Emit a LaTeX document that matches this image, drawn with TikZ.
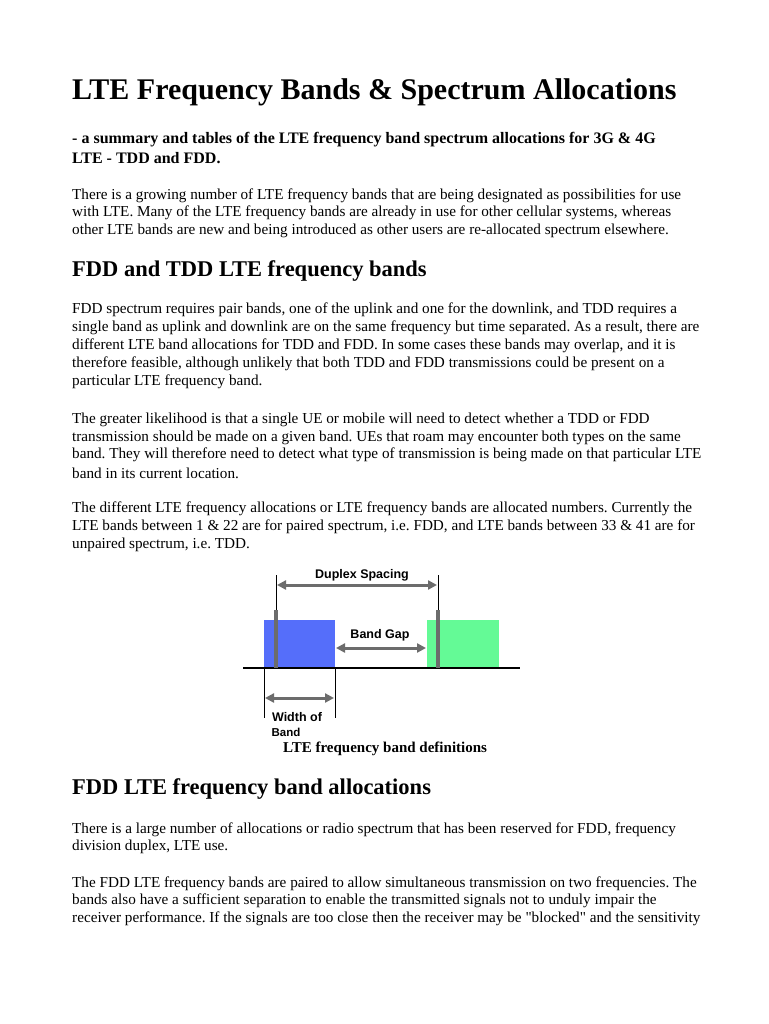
\documentclass[tikz,border=0pt]{standalone}
\usepackage{fontspec}
\setmainfont{Liberation Serif}
\newfontfamily\arial{Liberation Sans}
\usetikzlibrary{arrows.meta}
\begin{document}
\frenchspacing
\begin{tikzpicture}[x=1pt,y=-1pt,
 body/.style={anchor=west,inner sep=0,font=\fontsize{15.2}{16}\selectfont\frenchspacing},
 sub/.style={anchor=west,inner sep=0,font=\fontsize{16}{17}\selectfont\bfseries},
 head/.style={anchor=west,inner sep=0,font=\fontsize{22.5}{24}\selectfont\bfseries},
 lab/.style={inner sep=0,font=\arial\fontsize{12.5}{13}\selectfont\bfseries},
 garrow/.style={draw=gray!85!black,line width=3pt,{Triangle[length=9pt,width=9pt]}-{Triangle[length=9pt,width=9pt]}},
 thin/.style={draw=black,line width=0.6pt}]
\useasboundingbox (0,0) rectangle (768,1024);
\fill[white] (0,0) rectangle (768,1024);
\node[anchor=west,inner sep=0,font=\fontsize{30}{32}\selectfont\bfseries] (t) at (72,92) {LTE Frequency Bands \& Spectrum Allocations};
\node[sub] (s1) at (72,140) {- a summary and tables of the LTE frequency band spectrum allocations for 3G \& 4G};
\node[sub] (s2) at (72,158) {LTE - TDD and FDD.};
\node[body] (p11) at (72,196) {There is a growing number of LTE frequency bands that are being designated as possibilities for use};
\node[body] (p12) at (72,213) {with LTE. Many of the LTE frequency bands are already in use for other cellular systems, whereas};
\node[body] (p13) at (72,231) {other LTE bands are new and being introduced as other users are re-allocated spectrum elsewhere.};
\node[head] (h1) at (72,271) {FDD and TDD LTE frequency bands};
\node[body] (p21) at (72,310) {FDD spectrum requires pair bands, one of the uplink and one for the downlink, and TDD requires a};
\node[body] (p22) at (72,328) {single band as uplink and downlink are on the same frequency but time separated. As a result, there are};
\node[body] (p23) at (72,346) {different LTE band allocations for TDD and FDD. In some cases these bands may overlap, and it is};
\node[body] (p24) at (72,364) {therefore feasible, although unlikely that both TDD and FDD transmissions could be present on a};
\node[body] (p25) at (72,382) {particular LTE frequency band.};
\node[body] (p31) at (72,420) {The greater likelihood is that a single UE or mobile will need to detect whether a TDD or FDD};
\node[body] (p32) at (72,438) {transmission should be made on a given band. UEs that roam may encounter both types on the same};
\node[body] (p33) at (72,455) {band. They will therefore need to detect what type of transmission is being made on that particular LTE};
\node[body] (p34) at (72,473) {band in its current location.};
\node[body] (p41) at (72,509) {The different LTE frequency allocations or LTE frequency bands are allocated numbers. Currently the};
\node[body] (p42) at (72,527) {LTE bands between 1 \& 22 are for paired spectrum, i.e. FDD, and LTE bands between 33 \& 41 are for};
\node[body] (p43) at (72,545) {unpaired spectrum, i.e. TDD.};
% diagram
\fill[fill={rgb,255:red,85;green,110;blue,250}] (264,620) rectangle (335,668);
\fill[fill={rgb,255:red,100;green,250;blue,150}] (427,620) rectangle (499,668);
\draw[line width=1.5pt] (243,668) -- (520,668);
\draw[gray!85!black,line width=4pt] (276,610) -- (276,668);
\draw[gray!85!black,line width=4pt] (438,610) -- (438,668);
\draw[thin] (276,575) -- (276,610);
\draw[thin] (438,575) -- (438,610);
\draw[thin] (264,668) -- (264,718);
\draw[thin] (335,668) -- (335,718);
\coordinate (d1) at (277,585); \coordinate (d2) at (437,585);
\draw[garrow] (d1) -- (d2);
\node[lab] (dl) at (362,575) {Duplex Spacing};
\coordinate (g1) at (336,648); \coordinate (g2) at (426,648);
\draw[garrow] (g1) -- (g2);
\node[lab] (gl) at (380,635) {Band Gap};
\coordinate (w1) at (265,698); \coordinate (w2) at (334,698);
\draw[garrow] (w1) -- (w2);
\node[lab] (wl1) at (297,717) {Width of};
\node[lab,font=\arial\fontsize{11.5}{12}\selectfont\bfseries] (wl2) at (286,732) {Band};
\node[anchor=west,inner sep=0,font=\fontsize{15}{16}\selectfont\bfseries] (cap) at (283,749) {LTE frequency band definitions};
\node[head] (h2) at (72,789) {FDD LTE frequency band allocations};
\node[body] (p51) at (72,830) {There is a large number of allocations or radio spectrum that has been reserved for FDD, frequency};
\node[body] (p52) at (72,847) {division duplex, LTE use.};
\node[body] (p61) at (72,884) {The FDD LTE frequency bands are paired to allow simultaneous transmission on two frequencies. The};
\node[body] (p62) at (72,901) {bands also have a sufficient separation to enable the transmitted signals not to unduly impair the};
\node[body] (p63) at (72,919) {receiver performance. If the signals are too close then the receiver may be \textquotedbl blocked\textquotedbl{} and the sensitivity};
\end{tikzpicture}
\end{document}
